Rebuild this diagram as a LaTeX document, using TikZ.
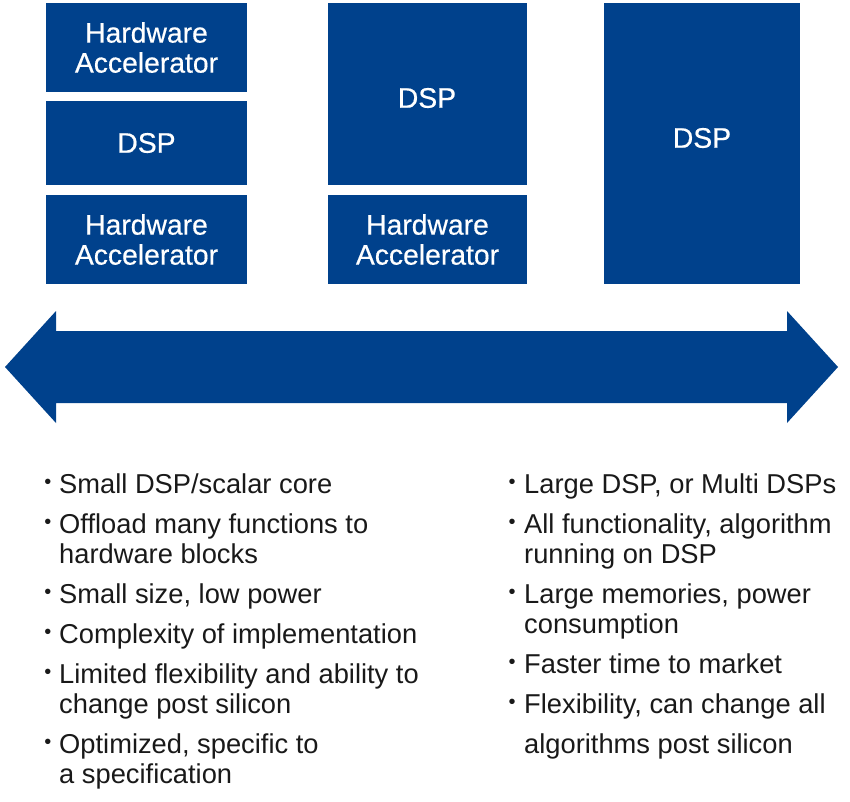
\documentclass[tikz,border=0pt]{standalone}
\usepackage{fontspec}
\setmainfont{Liberation Sans}
\newfontfamily\medfont{Liberation Sans}[FakeBold=0.5]
\definecolor{tiblue}{RGB}{0,65,140}
\begin{document}
\begin{tikzpicture}[x=1pt,y=-1pt,
  box/.style={fill=tiblue,draw=none,inner sep=0pt,outer sep=0pt,anchor=north west,
    text=white,align=center,font=\medfont\fontsize{28.3}{30}\selectfont},
  boxlabel/.style={text=white,inner sep=0pt,font=\medfont\fontsize{28.3}{30}\selectfont},
  line/.style={anchor=base west,inner sep=0pt,font=\fontsize{27.3}{30}\selectfont,text=black!90},
  bul/.style={anchor=base,inner sep=0pt,font=\fontsize{20}{20}\selectfont,text=black!90}]
\useasboundingbox (0,0) rectangle (850,801);
% column 1
\node[box,minimum width=201pt,minimum height=89pt] (ha1) at (46,3) {Hardware\\Accelerator};
\node[box,minimum width=201pt,minimum height=84pt] (dsp1) at (46,101) {DSP};
\node[box,minimum width=201pt,minimum height=89pt] (ha2) at (46,195) {Hardware\\Accelerator};
% column 2
\node[box,minimum width=199pt,minimum height=182pt] (dsp2) at (328,3) {};
\node[boxlabel] (dsp2t) at (427,98) {DSP};
\node[box,minimum width=199pt,minimum height=89pt] (ha3) at (328,195) {Hardware\\Accelerator};
% column 3
\node[box,minimum width=196pt,minimum height=281pt] (dsp3) at (604,3) {};
\node[boxlabel] (dsp3t) at (702,138) {DSP};
% arrow
\fill[tiblue] (5,367) -- (56,311) -- (56,331) -- (787,331) -- (787,311) -- (838,367)
  -- (787,423) -- (787,403) -- (56,403) -- (56,423) -- cycle;
% left list
\node[bul] (lb1) at (48,488) {•};
\node[line] (l1) at (59,493) {Small DSP/scalar core};
\node[bul] (lb2) at (48,528) {•};
\node[line] (l2) at (59,533) {Offload many functions to};
\node[line] (l2b) at (59,563) {hardware blocks};
\node[bul] (lb3) at (48,598) {•};
\node[line] (l3) at (59,603) {Small size, low power};
\node[bul] (lb4) at (48,638) {•};
\node[line] (l4) at (59,643) {Complexity of implementation};
\node[bul] (lb5) at (48,678) {•};
\node[line] (l5) at (59,683) {Limited flexibility and ability to};
\node[line] (l5b) at (59,713) {change post silicon};
\node[bul] (lb6) at (48,748) {•};
\node[line] (l6) at (59,753) {Optimized, specific to};
\node[line] (l6b) at (59,783) {a specification};
% right list
\node[bul] (rb1) at (512,488) {•};
\node[line] (r1) at (524,493) {Large DSP, or Multi DSPs};
\node[bul] (rb2) at (512,528) {•};
\node[line] (r2) at (524,533) {All functionality, algorithm};
\node[line] (r2b) at (524,563) {running on DSP};
\node[bul] (rb3) at (512,598) {•};
\node[line] (r3) at (524,603) {Large memories, power};
\node[line] (r3b) at (524,633) {consumption};
\node[bul] (rb4) at (512,668) {•};
\node[line] (r4) at (524,673) {Faster time to market};
\node[bul] (rb5) at (512,708) {•};
\node[line] (r5) at (524,713) {Flexibility, can change all};
\node[line] (r5b) at (524,753) {algorithms post silicon};
\end{tikzpicture}
\end{document}
